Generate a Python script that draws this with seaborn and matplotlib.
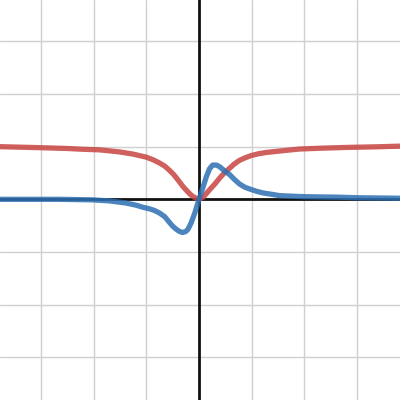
import numpy as np
import pandas as pd
import matplotlib
matplotlib.use("Agg")
import matplotlib.pyplot as plt
import seaborn as sns

# Red curve (grid unit = 1)
red_x = [-3.8, -3.0, -2.5, -2.2, -1.9, -1.7, -1.51, -1.26, -1.0, -0.87, -0.75, -0.65,
         -0.56, -0.48, -0.4, -0.31, -0.22, -0.15, -0.07, 0.0, 0.08, 0.2, 0.3, 0.39,
         0.48, 0.58, 0.67, 0.77, 0.88, 0.99, 1.13, 1.28, 1.47, 1.66, 1.91, 2.3, 2.8,
         3.3, 3.85]
red_y = [1.00, 0.98, 0.965, 0.95, 0.94, 0.92, 0.90, 0.86, 0.80, 0.75, 0.69, 0.63,
         0.55, 0.47, 0.37, 0.25, 0.15, 0.08, 0.025, 0.0, 0.04, 0.18, 0.29, 0.40,
         0.50, 0.59, 0.67, 0.74, 0.79, 0.83, 0.865, 0.89, 0.91, 0.93, 0.955, 0.97,
         0.985, 0.995, 1.01]

# Blue curve
blue_x = [-3.8, -2.66, -2.03, -1.7, -1.39, -1.2, -1.07, -0.94, -0.85, -0.75, -0.65,
          -0.56, -0.5, -0.43, -0.37, -0.31, -0.25, -0.21, -0.15, -0.08, 0.0, 0.07,
          0.14, 0.2, 0.26, 0.33, 0.39, 0.45, 0.5, 0.58, 0.67, 0.77, 0.87, 0.98, 1.1,
          1.22, 1.35, 1.53, 1.75, 2.0, 2.68, 3.0, 3.85]
blue_y = [0.0, 0.0, -0.01, -0.03, -0.07, -0.11, -0.15, -0.18, -0.21, -0.26, -0.33,
          -0.44, -0.51, -0.57, -0.61, -0.63, -0.61, -0.57, -0.45, -0.26, 0.0, 0.21,
          0.43, 0.58, 0.65, 0.65, 0.62, 0.57, 0.53, 0.47, 0.38, 0.29, 0.23, 0.19, 0.15,
          0.12, 0.10, 0.07, 0.06, 0.05, 0.04, 0.03, 0.02]

grid_ticks = [-3, -2, -1, 0, 1, 2, 3]

sns.set_theme(style="white")
fig = plt.figure(figsize=(4, 4), dpi=100)
ax = fig.add_axes([0, 0, 1, 1])

for t in grid_ticks:
    if t != 0:
        ax.axvline(t, color="#d0d0d0", lw=1.0, zorder=0)
        ax.axhline(t, color="#d0d0d0", lw=1.0, zorder=0)
ax.axvline(0, color="#111111", lw=2.0, zorder=1)
ax.axhline(0, color="#111111", lw=2.0, zorder=1)

red_df = pd.DataFrame({"x": red_x, "y": red_y})
blue_df = pd.DataFrame({"x": blue_x, "y": blue_y})
sns.lineplot(data=red_df, x="x", y="y", ax=ax, color="#c74440", lw=3.8, alpha=0.85,
             sort=False, estimator=None, zorder=2)
sns.lineplot(data=blue_df, x="x", y="y", ax=ax, color="#2d70b3", lw=3.8, alpha=0.85,
             sort=False, estimator=None, zorder=3)

ax.set_xlim(-3.778, 3.816)
ax.set_ylim(-3.81, 3.784)
ax.set_xticks([])
ax.set_yticks([])
ax.set_xlabel("")
ax.set_ylabel("")
for s in ax.spines.values():
    s.set_visible(False)

fig.savefig("out.png", dpi=100)
